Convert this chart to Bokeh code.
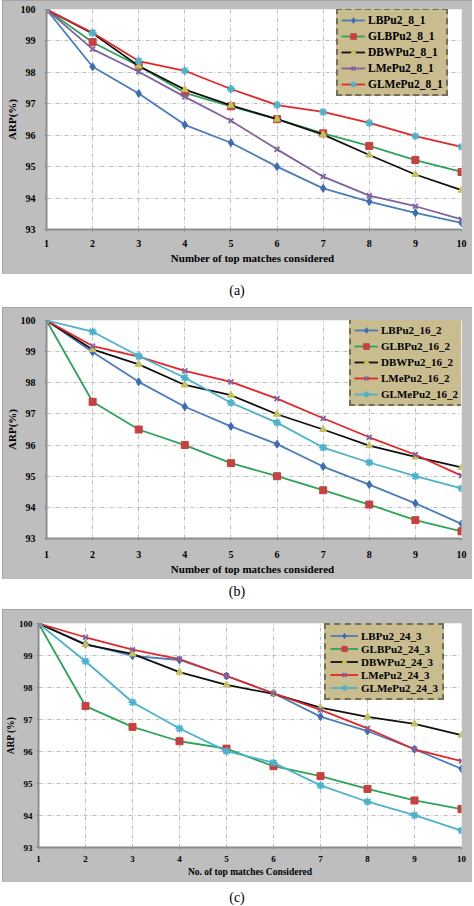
from bokeh.plotting import figure
from bokeh.models import Range1d, Legend, LegendItem, FixedTicker, Div
from bokeh.layouts import column, row
from bokeh.embed import file_html
from bokeh.resources import INLINE

# number of top matches considered
ranks = [1, 2, 3, 4, 5, 6, 7, 8, 9, 10]
y_ticks = [93, 94, 95, 96, 97, 98, 99, 100]

# (a) P = 8, R = 1
lbp_8_1 = [100, 98.18, 97.33, 96.33, 95.76, 95.00, 94.31, 93.89, 93.53, 93.21]
glbp_8_1 = [100, 98.96, 98.20, 97.35, 96.92, 96.51, 96.06, 95.66, 95.21, 94.83]
dbw_8_1 = [100, 99.24, 98.20, 97.45, 96.95, 96.51, 96.02, 95.37, 94.75, 94.25]
lme_8_1 = [100, 98.74, 98.02, 97.22, 96.46, 95.55, 94.68, 94.08, 93.74, 93.32]
glme_8_1 = [100, 99.26, 98.36, 98.05, 97.47, 96.96, 96.74, 96.39, 95.97, 95.63]

# (b) P = 16, R = 2
lbp_16_2 = [100, 98.99, 98.03, 97.23, 96.60, 96.03, 95.31, 94.73, 94.13, 93.47]
glbp_16_2 = [100, 97.39, 96.50, 96.00, 95.42, 95.00, 94.55, 94.09, 93.59, 93.23]
dbw_16_2 = [100, 99.07, 98.59, 97.93, 97.60, 96.99, 96.50, 95.98, 95.62, 95.28]
lme_16_2 = [100, 99.18, 98.84, 98.38, 98.03, 97.49, 96.86, 96.25, 95.69, 95.02]
glme_16_2 = [100, 99.64, 98.86, 98.16, 97.36, 96.72, 95.92, 95.44, 95.00, 94.61]

# (c) P = 24, R = 3
lbp_24_3 = [100, 99.36, 98.99, 98.86, 98.36, 97.82, 97.09, 96.64, 96.07, 95.46]
glbp_24_3 = [100, 97.42, 96.77, 96.32, 96.09, 95.54, 95.23, 94.83, 94.47, 94.20]
dbw_24_3 = [100, 99.34, 99.05, 98.48, 98.08, 97.80, 97.37, 97.08, 96.86, 96.51]
lme_24_3 = [100, 99.57, 99.18, 98.89, 98.36, 97.82, 97.30, 96.72, 96.07, 95.70]
glme_24_3 = [100, 98.82, 97.54, 96.72, 96.01, 95.65, 94.94, 94.43, 94.01, 93.53]

BLUE = "#4a7dba"
GREEN = "#2ea35a"
BLACK = "#111111"
RED = "#e3262a"
PURPLE = "#7f62a0"
CYAN = "#4cb2cc"
SQUARE = "#c8403f"
TRI = "#c2c25a"
SERIF = "Liberation Serif"


def style(name, line, marker, fill, size):
    return dict(name=name, line=line, marker=marker, fill=fill, size=size)


def panel(series, names, xlabel, ylabel, height, top, bottom, left,
          tick_size, title_size, ylab_standoff, xlab_standoff, legend_xy,
          legend_font, legend_row, legend_spacing, legend_pad, glyph_w):
    p = figure(width=470, height=height, x_range=Range1d(1, 10),
               y_range=Range1d(93, 100), output_backend="svg",
               toolbar_location=None, min_border_left=left,
               min_border_right=11, min_border_top=top,
               min_border_bottom=bottom, border_fill_color="#bebebe",
               background_fill_color="white", outline_line_color=None,
               margin=(0, 0, 0, 2),
               styles={"outline": "1px solid #9c9c9c", "outline-offset": "-1px"})

    for ax in (p.xaxis[0], p.yaxis[0]):
        ax.axis_line_color = "#8c8c8c"
        ax.axis_line_width = 2
        ax.major_tick_line_color = "#8c8c8c"
        ax.major_tick_out = 2
        ax.major_tick_in = 0
        ax.minor_tick_line_color = None
        ax.major_label_text_font = SERIF
        ax.major_label_text_font_style = "bold"
        ax.major_label_text_font_size = tick_size
        ax.major_label_text_color = "black"
        ax.axis_label_text_font = SERIF
        ax.axis_label_text_font_style = "bold"
        ax.axis_label_text_font_size = title_size
        ax.axis_label_text_color = "black"
        ax.axis_label_standoff = 2

    p.xaxis.ticker = FixedTicker(ticks=ranks)
    p.yaxis.ticker = FixedTicker(ticks=y_ticks)
    p.xaxis.axis_label = xlabel
    p.yaxis.axis_label = ylabel
    p.yaxis.axis_label_standoff = 0
    p.yaxis.major_label_standoff = ylab_standoff
    p.xaxis.major_label_standoff = xlab_standoff

    p.grid.grid_line_color = "#bdbdbd"
    p.grid.grid_line_dash = "4 2 1 2"
    p.grid.grid_line_width = 1

    items = []
    for values, st in zip(series, names):
        ln = p.line(ranks, values, line_color=st["line"], line_width=1.8)
        if st["marker"] in ("x", "asterisk"):
            mk = p.scatter(ranks, values, marker=st["marker"], size=st["size"],
                           line_color=st["fill"], line_width=1.8)
        else:
            mk = p.scatter(ranks, values, marker=st["marker"], size=st["size"],
                           fill_color=st["fill"], line_color=st["fill"])
        items.append(LegendItem(label=st["name"], renderers=[ln, mk]))

    legend = Legend(items=items, location=legend_xy,
                    background_fill_color="#c9bd8f", background_fill_alpha=1,
                    border_line_color="#222222", border_line_width=2,
                    border_line_dash="4 2", padding=legend_pad,
                    spacing=legend_spacing, margin=0, label_standoff=3,
                    glyph_width=glyph_w, glyph_height=legend_row,
                    label_height=legend_row, label_text_font=SERIF,
                    label_text_font_style="bold",
                    label_text_font_size=legend_font, label_text_color="black")
    p.add_layout(legend)
    return p


fig_a = panel(
    [lbp_8_1, glbp_8_1, dbw_8_1, lme_8_1, glme_8_1],
    [style("LBPu2_8_1", BLUE, "diamond", "#3b6db4", 8),
     style("GLBPu2_8_1", GREEN, "square", SQUARE, 7),
     style("DBWPu2_8_1", BLACK, "triangle", TRI, 7),
     style("LMePu2_8_1", PURPLE, "x", PURPLE, 7),
     style("GLMePu2_8_1", RED, "asterisk", CYAN, 8)],
    "Number  of top matches considered", "ARP(%)",
    274, 9, 45, 43, "10px", "11px", 9, 8, (290, 133), "11.5px", 14, 2, 3, 24)

fig_b = panel(
    [lbp_16_2, glbp_16_2, dbw_16_2, lme_16_2, glme_16_2],
    [style("LBPu2_16_2", BLUE, "diamond", "#3b6db4", 8),
     style("GLBPu2_16_2", GREEN, "square", SQUARE, 7),
     style("DBWPu2_16_2", BLACK, "triangle", TRI, 7),
     style("LMePu2_16_2", RED, "x", PURPLE, 7),
     style("GLMePu2_16_2", CYAN, "asterisk", CYAN, 8)],
    "Number  of top matches considered", "ARP(%)",
    272, 13, 41, 42, "10px", "11px", 9, 10, (303, 132), "11px", 14, 2, 3, 24)

fig_c = panel(
    [lbp_24_3, glbp_24_3, dbw_24_3, lme_24_3, glme_24_3],
    [style("LBPu2_24_3", BLUE, "diamond", "#3b6db4", 8),
     style("GLBPu2_24_3", GREEN, "square", SQUARE, 7),
     style("DBWPu2_24_3", BLACK, "triangle", TRI, 7),
     style("LMePu2_24_3", RED, "x", PURPLE, 7),
     style("GLMePu2_24_3", CYAN, "asterisk", CYAN, 8)],
    "No. of top matches Considered", "ARP (%)",
    273, 14, 35, 33, "9px", "9.5px", 4, 6, (286, 147), "11px", 13, 0, 4, 28)


def caption(text, h, lh):
    return Div(text=text, width=474, height=h, margin=0,
               styles={"text-align": "center", "font-family": "'Liberation Serif', serif",
                       "font-size": "14px", "line-height": lh, "color": "black"})


# each panel sits in its own row so the frames are laid out independently
page = column(row(fig_a, margin=0), caption("(a)", 33, "33px"),
              row(fig_b, margin=0), caption("(b)", 30, "26px"),
              row(fig_c, margin=0), caption("(c)", 24, "32px"),
              spacing=0, margin=0)

open("out.html", "w").write(file_html(page, INLINE))
